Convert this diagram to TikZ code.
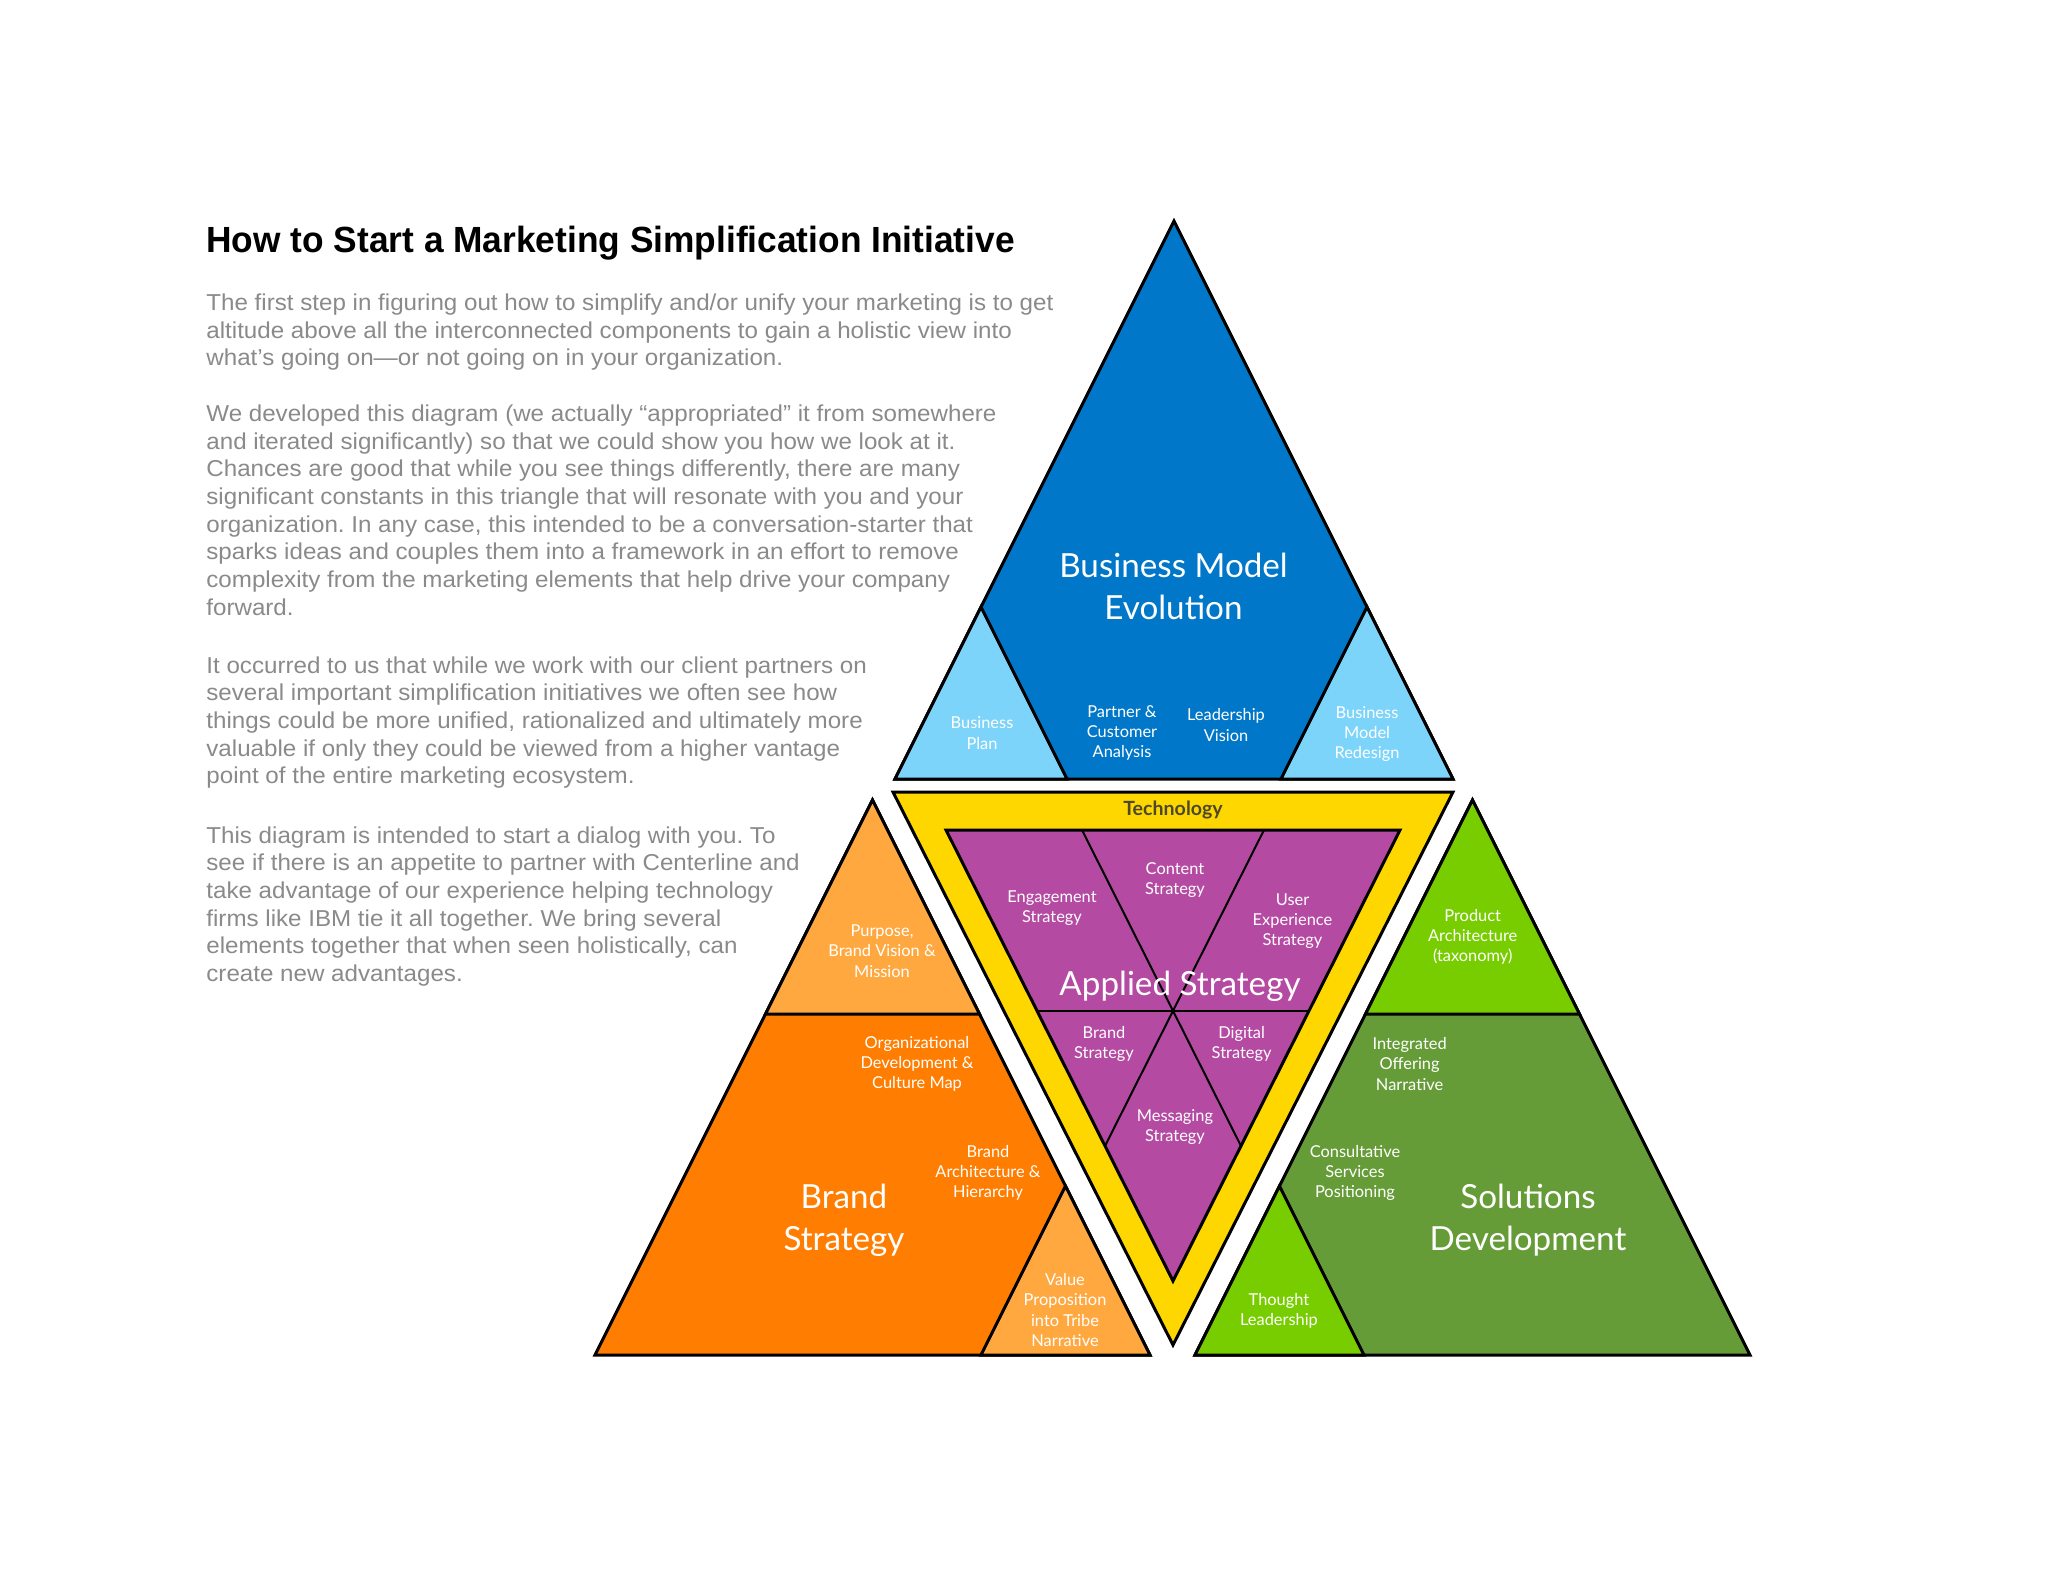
\documentclass[tikz,border=0pt]{standalone}
\usepackage{fontspec}
\setmainfont{Lato}
\newfontfamily\headfont[FakeStretch=0.97]{Liberation Sans}
\newfontfamily\bodyfont[FakeStretch=1.05]{Liberation Sans}
\usepackage{tikz}
\frenchspacing

\definecolor{bmblue}{RGB}{0,119,200}
\definecolor{bmlight}{RGB}{125,212,250}
\definecolor{brorange}{RGB}{255,125,0}
\definecolor{brlight}{RGB}{255,168,64}
\definecolor{sdgreen}{RGB}{102,156,56}
\definecolor{sdlight}{RGB}{120,205,0}
\definecolor{techyellow}{RGB}{255,215,0}
\definecolor{aspurple}{RGB}{181,74,163}
\definecolor{bodygray}{RGB}{138,138,138}
\definecolor{techtext}{RGB}{77,72,40}

\tikzset{
  part/.style={draw=black, line width=1.5pt},
  divide/.style={draw=black, line width=1pt},
  lbl/.style={text=white, align=center, inner sep=0pt, font=\fontsize{8.2}{10.1}\selectfont},
  biglbl/.style={text=white, align=center, inner sep=0pt, font=\fontsize{16.6}{21}\selectfont},
  body/.style={text=bodygray, align=left, anchor=north west, inner sep=0pt, font=\bodyfont\fontsize{11.5}{13.85}\selectfont},
}

\begin{document}
\begin{tikzpicture}[x=0.5pt,y=-0.5pt]
\useasboundingbox (0,0) rectangle (2048,1582);
\fill[white] (0,0) rectangle (2048,1582);
%title and text
\node[anchor=base west, inner sep=0pt, font=\headfont\bfseries\fontsize{18.2}{22}\selectfont] (title) at (206,252.7) {How to Start a Marketing Simplification Initiative};
\node[body] (para1) at (206,293.4) {The first step in figuring out how to simplify and/or unify your marketing is to get\\
altitude above all the interconnected components to gain a holistic view into\\
what’s going on—or not going on in your organization.};
\node[body] (para2) at (206,404.4) {We developed this diagram (we actually “appropriated” it from somewhere\\
and iterated significantly) so that we could show you how we look at it.\\
Chances are good that while you see things differently, there are many\\
significant constants in this triangle that will resonate with you and your\\
organization. In any case, this intended to be a conversation-starter that\\
sparks ideas and couples them into a framework in an effort to remove\\
complexity from the marketing elements that help drive your company\\
forward.};
\node[body] (para3) at (206,656.1) {It occurred to us that while we work with our client partners on\\
several important simplification initiatives we often see how\\
things could be more unified, rationalized and ultimately more\\
valuable if only they could be viewed from a higher vantage\\
point of the entire marketing ecosystem.};
\node[body] (para4) at (206,826.1) {This diagram is intended to start a dialog with you. To\\
see if there is an appetite to partner with Centerline and\\
take advantage of our experience helping technology\\
firms like IBM tie it all together. We bring several\\
elements together that when seen holistically, can\\
create new advantages.};
% Business Model Evolution (top)
\draw[part, fill=bmblue] (895,779) -- (1174,221) -- (1453,779) -- cycle;
\draw[part, fill=bmlight] (895,779) -- (981,607) -- (1067,779) -- cycle;
\draw[part, fill=bmlight] (1281,779) -- (1367,607) -- (1453,779) -- cycle;
\node[biglbl] (bme) at (1173.5,586.5) {Business Model\\Evolution};
\node[lbl] (bplan) at (982,733) {Business\\Plan};
\node[lbl] (partner) at (1122,733) {Partner \&\\Customer\\Analysis};
\node[lbl] (leader) at (1226,725) {Leadership\\Vision};
\node[lbl] (redesign) at (1367,734) {Business\\Model\\Redesign};
% Technology and Applied Strategy (middle)
\draw[part, fill=techyellow] (893,792) -- (1453,792) -- (1173,1345) -- cycle;
\draw[part, fill=aspurple] (946,830) -- (1400,830) -- (1173,1281) -- cycle;
\draw[divide] (1037,1011) -- (1309,1011);
\draw[divide] (1082,830) -- (1241,1146);
\draw[divide] (1264,830) -- (1105,1146);
\node[font=\bfseries\fontsize{9.8}{11}\selectfont, text=techtext, inner sep=0pt] (tech) at (1173,810) {Technology};
\node[lbl] (engage) at (1052,908.5) {Engagement\\Strategy};
\node[lbl] (content) at (1175,880) {Content\\Strategy};
\node[lbl] (ux) at (1292.5,921) {User\\Experience\\Strategy};
\node[biglbl] (applied) at (1180,986.5) {Applied Strategy};
\node[lbl] (brand) at (1104,1044) {Brand\\Strategy};
\node[lbl] (digital) at (1241.6,1044) {Digital\\Strategy};
\node[lbl] (msg) at (1175,1127) {Messaging\\Strategy};
% Brand Strategy (left)
\draw[part, fill=brorange] (595,1355) -- (872.5,800) -- (1150,1355) -- cycle;
\draw[part, fill=brlight] (765.5,1014) -- (872.5,800) -- (979.5,1014) -- cycle;
\draw[part, fill=brlight] (981,1355) -- (1065.5,1186) -- (1150,1355) -- cycle;
\node[lbl] (purpose) at (882,951) {Purpose,\\Brand Vision \&\\Mission};
\node[lbl] (orgdev) at (917,1064) {Organizational\\Development \&\\Culture Map};
\node[lbl] (brarch) at (988,1173) {Brand\\Architecture \&\\Hierarchy};
\node[biglbl] (bstrat) at (844,1220) {Brand\\Strategy};
\node[lbl] (value) at (1065,1310) {Value\\Proposition\\into Tribe\\Narrative};
% Solutions Development (right)
\draw[part, fill=sdgreen] (1195,1355) -- (1472.5,800) -- (1750,1355) -- cycle;
\draw[part, fill=sdlight] (1365.5,1014) -- (1472.5,800) -- (1579.5,1014) -- cycle;
\draw[part, fill=sdlight] (1195,1355) -- (1279.5,1186) -- (1364,1355) -- cycle;
\node[lbl] (product) at (1472.7,937) {Product\\Architecture\\(taxonomy)};
\node[lbl] (offering) at (1409.6,1064) {Integrated\\Offering\\Narrative};
\node[lbl] (consult) at (1355,1173) {Consultative\\Services\\Positioning};
\node[biglbl] (soldev) at (1528,1220) {Solutions\\Development};
\node[lbl] (thought) at (1279,1311) {Thought\\Leadership};
\end{tikzpicture}
\end{document}
